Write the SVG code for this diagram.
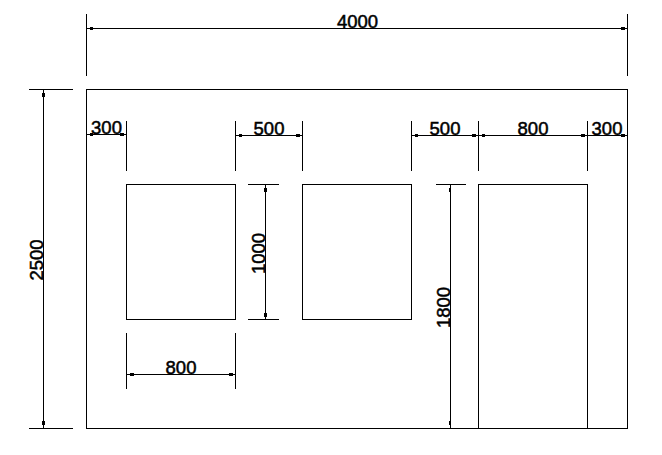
<svg xmlns="http://www.w3.org/2000/svg" width="662" height="455" viewBox="0 0 662 455">
<style>
.o{fill:none;stroke:#000;stroke-width:1;shape-rendering:crispEdges}
.t{fill:#000;stroke:none;shape-rendering:crispEdges}
text{font-family:"Liberation Sans",Arial,sans-serif;font-size:18.5px;fill:#000;stroke:#000;stroke-width:.5;text-anchor:middle}
</style>
<rect width="662" height="455" fill="#fff"/>
<g id="wall"><rect class="o" x="86.5" y="89.5" width="541" height="339"/></g>
<g id="window-left"><rect class="o" x="126.5" y="184.5" width="109" height="135"/></g>
<g id="window-right"><rect class="o" x="302.5" y="184.5" width="109" height="135"/></g>
<g id="door"><path class="o" d="M478.5 428.5V184.5H587.5V428.5"/></g>
<g id="connectors">
<path class="o" d="M86.5 14V76M627.5 14V76M86 28.500H628"/>
<path class="o" d="M29 89.500H73M29 428.500H73M43.500 89V429"/>
<path class="o" d="M126.500 121V171M235.500 121V171M302.500 121V171M411.500 121V171M478.500 121V171M587.500 121V171"/>
<path class="o" d="M86 134.500H127M235 135.500H303M411 135.500H479M478 135.500H588M587 135.500H628"/>
<path class="o" d="M248 184.500H279M248 319.500H279M265.500 184V320"/>
<path class="o" d="M436 184.500H466M450.500 184V429"/>
<path class="o" d="M126.500 333V389M235.500 333V389M126 374.500H236"/>
<rect class="t" x="90" y="27" width="3" height="3"/>
<rect class="t" x="621" y="27" width="4" height="3"/>
<rect class="t" x="42" y="93" width="3" height="4"/>
<rect class="t" x="42" y="421" width="3" height="4"/>
<rect class="t" x="90" y="133" width="3" height="3"/>
<rect class="t" x="120" y="133" width="4" height="3"/>
<rect class="t" x="239" y="134" width="3" height="3"/>
<rect class="t" x="296" y="134" width="4" height="3"/>
<rect class="t" x="415" y="134" width="3" height="3"/>
<rect class="t" x="472" y="134" width="4" height="3"/>
<rect class="t" x="482" y="134" width="3" height="3"/>
<rect class="t" x="581" y="134" width="4" height="3"/>
<rect class="t" x="621" y="134" width="4" height="3"/>
<rect class="t" x="264" y="188" width="3" height="4"/>
<rect class="t" x="264" y="313" width="3" height="4"/>
<rect class="t" x="449" y="188" width="2" height="4"/>
<rect class="t" x="449" y="421" width="2" height="4"/>
<rect class="t" x="130" y="373" width="4" height="3"/>
<rect class="t" x="229" y="373" width="4" height="3"/>
</g>
<g id="labels">
<text x="357.500" y="28">4000</text>
<text x="106.500" y="134">300</text>
<text x="269" y="135">500</text>
<text x="445" y="135">500</text>
<text x="533" y="135">800</text>
<text x="607" y="135">300</text>
<text x="181" y="374">800</text>
<text transform="translate(43 260) rotate(-90)">2500</text>
<text transform="translate(265 253.500) rotate(-90)">1000</text>
<text transform="translate(450 307.500) rotate(-90)">1800</text>
</g>
</svg>
